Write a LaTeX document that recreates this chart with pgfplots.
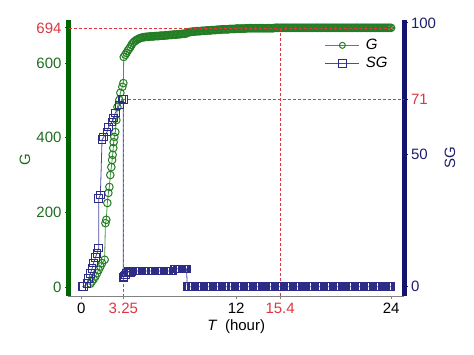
\documentclass[border=0pt]{standalone}
\usepackage{pgfplots}
\pgfplotsset{compat=1.18}
\usepackage{pgfplotstable}
\usepackage{fontspec}
\setmainfont{Liberation Sans}
\definecolor{Gaxis}{RGB}{0,100,0}
\definecolor{Gtxt}{RGB}{30,110,30}
\definecolor{Gline}{RGB}{70,150,70}
\definecolor{Gmark}{RGB}{35,125,35}
\definecolor{SGaxis}{RGB}{20,20,110}
\definecolor{SGtxt}{RGB}{30,30,110}
\definecolor{SGline}{RGB}{75,75,160}
\definecolor{SGmark}{RGB}{45,45,135}
\definecolor{refred}{RGB}{220,55,65}
\definecolor{xgray}{RGB}{130,130,130}

\pgfplotstableread[row sep=\\]{
x y\\
0.70 9\\ 0.82 15\\ 0.95 21\\ 1.08 28\\ 1.21 37\\ 1.34 46\\ 1.47 55\\ 1.60 64\\ 1.80 73\\
1.86 171\\ 1.93 180\\ 2.01 225\\ 2.09 252\\ 2.17 268\\ 2.24 300\\ 2.32 321\\ 2.38 340\\
2.42 354\\ 2.47 372\\ 2.50 388\\ 2.55 402\\ 2.63 415\\ 2.71 447\\ 2.79 482\\ 2.94 501\\
3.02 520\\ 3.17 536\\ 3.25 546\\ 3.28 616\\
3.4 622\\ 3.5 627\\ 3.6 633\\ 3.7 638\\ 3.8 643\\ 3.9 649\\ 4.0 654\\ 4.1 657\\ 4.2 660\\
4.3 662\\ 4.4 664\\ 4.5 666\\ 4.6 667\\ 4.7 668\\ 4.8 669\\ 4.9 669\\ 5.0 670\\ 5.1 670\\
5.2 670\\ 5.3 671\\ 5.4 671\\ 5.5 671\\ 5.6 671\\ 5.7 672\\ 5.8 672\\ 5.9 672\\ 6.0 672\\
6.1 673\\ 6.2 673\\ 6.3 673\\ 6.4 673\\ 6.5 674\\ 6.6 674\\ 6.7 674\\ 6.8 675\\ 6.9 675\\
7.0 675\\ 7.1 676\\ 7.2 676\\ 7.3 676\\ 7.4 676\\ 7.5 677\\ 7.6 677\\ 7.7 677\\ 7.8 678\\
7.9 678\\ 8.0 678\\ 8.1 679\\ 8.2 680\\ 8.3 682\\ 8.4 683\\ 8.5 683\\ 8.6 684\\ 8.7 684\\
8.8 684\\ 8.9 685\\ 9.0 685\\ 9.1 685\\ 9.2 685\\ 9.3 686\\ 9.4 686\\ 9.5 686\\ 9.6 686\\
9.7 687\\ 9.8 687\\ 9.9 687\\ 10.0 687\\ 10.1 688\\ 10.2 688\\ 10.3 688\\ 10.4 688\\
10.5 689\\ 10.6 689\\ 10.7 689\\ 10.8 689\\ 10.9 690\\ 11.0 690\\ 11.1 690\\ 11.2 690\\
11.3 690\\ 11.4 690\\ 11.5 691\\ 11.6 691\\ 11.7 691\\ 11.8 691\\ 11.9 691\\ 12.0 692\\
12.1 692\\ 12.2 692\\ 12.3 692\\ 12.4 692\\ 12.5 692\\ 12.6 692\\ 12.7 692\\ 12.8 693\\
12.9 693\\ 13.0 693\\ 13.1 693\\ 13.2 693\\ 13.3 693\\ 13.4 693\\ 13.5 693\\ 13.6 693\\
13.7 693\\ 13.8 693\\ 13.9 693\\ 14.0 693\\ 14.1 693\\ 14.2 693\\ 14.3 693\\ 14.4 693\\
14.5 693\\ 14.6 693\\ 14.7 693\\ 14.8 693\\ 14.9 693\\ 15.0 694\\ 15.1 694\\ 15.2 694\\
15.3 694\\ 15.4 694\\ 15.5 694\\ 15.6 694\\ 15.7 694\\ 15.8 694\\ 15.9 694\\ 16.0 694\\
16.1 694\\ 16.2 694\\ 16.3 694\\ 16.4 694\\ 16.5 694\\ 16.6 694\\ 16.7 694\\ 16.8 694\\
16.9 694\\ 17.0 694\\ 17.1 694\\ 17.2 694\\ 17.3 694\\ 17.4 694\\ 17.5 694\\ 17.6 694\\
17.7 694\\ 17.8 694\\ 17.9 694\\ 18.0 694\\ 18.1 694\\ 18.2 694\\ 18.3 694\\ 18.4 694\\
18.5 694\\ 18.6 694\\ 18.7 694\\ 18.8 694\\ 18.9 694\\ 19.0 694\\ 19.1 694\\ 19.2 694\\
19.3 694\\ 19.4 694\\ 19.5 694\\ 19.6 694\\ 19.7 694\\ 19.8 694\\ 19.9 694\\ 20.0 694\\
20.1 694\\ 20.2 694\\ 20.3 694\\ 20.4 694\\ 20.5 694\\ 20.6 694\\ 20.7 694\\ 20.8 694\\
20.9 694\\ 21.0 694\\ 21.1 694\\ 21.2 694\\ 21.3 694\\ 21.4 694\\ 21.5 694\\ 21.6 694\\
21.7 694\\ 21.8 694\\ 21.9 694\\ 22.0 694\\ 22.1 694\\ 22.2 694\\ 22.3 694\\ 22.4 694\\
22.5 694\\ 22.6 694\\ 22.7 694\\ 22.8 694\\ 22.9 694\\ 23.0 694\\ 23.1 694\\ 23.2 694\\
23.3 694\\ 23.4 694\\ 23.5 694\\ 23.6 694\\ 23.7 694\\ 23.8 694\\ 23.9 694\\ 24.0 694\\
}\Gdata

\pgfplotstableread[row sep=\\]{
x y\\
0.05 0\\ 0.18 0\\ 0.44 1.3\\ 0.57 3.2\\ 0.70 5.0\\ 0.83 7.0\\ 0.95 9.0\\ 1.08 11.0\\
1.21 12.7\\ 1.34 14.7\\ 1.34 33.5\\ 1.47 34.8\\ 1.60 55.7\\ 1.73 56.8\\ 1.99 58.7\\
2.11 60.6\\ 2.37 62.5\\ 2.50 64.0\\ 2.63 65.9\\ 2.96 68.9\\ 3.15 71.2\\ 3.25 71.0\\
3.25 3.5\\ 3.3 4.0\\ 3.4 4.5\\ 3.5 5.2\\ 3.6 5.7\\ 3.7 5.5\\ 3.8 5.3\\ 3.9 5.8\\
4.0 6.0\\ 4.1 6.0\\ 4.2 6.0\\ 4.3 6.0\\ 4.4 6.0\\ 4.5 6.0\\ 4.6 6.0\\ 4.7 6.0\\
4.8 6.0\\ 4.9 6.0\\ 5.0 6.0\\ 5.1 6.0\\ 5.2 6.0\\ 5.3 6.0\\ 5.4 6.0\\ 5.5 6.0\\
5.6 6.0\\ 5.7 6.0\\ 5.8 6.0\\ 5.9 6.0\\ 6.0 6.0\\ 6.1 6.0\\ 6.2 6.0\\ 6.3 6.0\\
6.4 6.0\\ 6.5 6.0\\ 6.6 6.0\\ 6.7 6.0\\ 6.8 6.0\\ 6.9 6.0\\ 7.0 6.0\\ 7.1 6.0\\
7.2 6.8\\ 7.3 6.8\\ 7.4 6.8\\ 7.5 6.8\\ 7.6 6.8\\ 7.7 6.8\\ 7.8 6.8\\ 7.9 6.8\\
8.0 6.8\\ 8.1 6.8\\ 8.15 6.8\\
8.2 0\\ 8.3 0\\ 8.4 0\\ 8.5 0\\ 8.6 0\\ 8.7 0\\ 8.8 0\\ 8.9 0\\ 9.0 0\\ 9.1 0\\
9.2 0\\ 9.3 0\\ 9.4 0\\ 9.5 0\\ 9.6 0\\ 9.7 0\\ 9.8 0\\ 9.9 0\\ 10.0 0\\ 10.1 0\\
10.2 0\\ 10.3 0\\ 10.4 0\\ 10.5 0\\ 10.6 0\\ 10.7 0\\ 10.8 0\\ 10.9 0\\ 11.0 0\\
11.1 0\\ 11.2 0\\ 11.3 0\\ 11.4 0\\ 11.5 0\\ 11.6 0\\ 11.7 0\\ 11.8 0\\ 11.9 0\\
12.0 0\\ 12.1 0\\ 12.2 0\\ 12.3 0\\ 12.4 0\\ 12.5 0\\ 12.6 0\\ 12.7 0\\ 12.8 0\\
12.9 0\\ 13.0 0\\ 13.1 0\\ 13.2 0\\ 13.3 0\\ 13.4 0\\ 13.5 0\\ 13.6 0\\ 13.7 0\\
13.8 0\\ 13.9 0\\ 14.0 0\\ 14.1 0\\ 14.2 0\\ 14.3 0\\ 14.4 0\\ 14.5 0\\ 14.6 0\\
14.7 0\\ 14.8 0\\ 14.9 0\\ 15.0 0\\ 15.1 0\\ 15.2 0\\ 15.3 0\\ 15.4 0\\ 15.5 0\\
15.6 0\\ 15.7 0\\ 15.8 0\\ 15.9 0\\ 16.0 0\\ 16.1 0\\ 16.2 0\\ 16.3 0\\ 16.4 0\\
16.5 0\\ 16.6 0\\ 16.7 0\\ 16.8 0\\ 16.9 0\\ 17.0 0\\ 17.1 0\\ 17.2 0\\ 17.3 0\\
17.4 0\\ 17.5 0\\ 17.6 0\\ 17.7 0\\ 17.8 0\\ 17.9 0\\ 18.0 0\\ 18.1 0\\ 18.2 0\\
18.3 0\\ 18.4 0\\ 18.5 0\\ 18.6 0\\ 18.7 0\\ 18.8 0\\ 18.9 0\\ 19.0 0\\ 19.1 0\\
19.2 0\\ 19.3 0\\ 19.4 0\\ 19.5 0\\ 19.6 0\\ 19.7 0\\ 19.8 0\\ 19.9 0\\ 20.0 0\\
20.1 0\\ 20.2 0\\ 20.3 0\\ 20.4 0\\ 20.5 0\\ 20.6 0\\ 20.7 0\\ 20.8 0\\ 20.9 0\\
21.0 0\\ 21.1 0\\ 21.2 0\\ 21.3 0\\ 21.4 0\\ 21.5 0\\ 21.6 0\\ 21.7 0\\ 21.8 0\\
21.9 0\\ 22.0 0\\ 22.1 0\\ 22.2 0\\ 22.3 0\\ 22.4 0\\ 22.5 0\\ 22.6 0\\ 22.7 0\\
22.8 0\\ 22.9 0\\ 23.0 0\\ 23.1 0\\ 23.2 0\\ 23.3 0\\ 23.4 0\\ 23.5 0\\ 23.6 0\\
23.7 0\\ 23.8 0\\ 23.9 0\\ 24.0 0\\
}\SGdata

\pgfplotsset{
  Gstyle/.style={color=Gline, line width=0.8pt, mark=o, mark size=3.8pt,
    mark options={draw=Gmark, fill=white, line width=1pt, solid}},
  SGstyle/.style={color=SGline, line width=0.8pt, mark=square, mark size=3.8pt,
    mark options={draw=SGmark, fill=white, line width=1pt, solid}},
  common/.style={
    scale only axis, width=335.5pt, height=276pt,
    at={(68.5pt,59pt)}, anchor=south west,
    xmin=-1, xmax=25, clip=false,
    font=\fontsize{15}{18}\selectfont,
    tick align=outside, major tick length=3.5pt,
  },
}

\begin{document}
\begin{tikzpicture}
\path[use as bounding box] (0,0) rectangle (474pt,355pt);

\begin{axis}[common,
  ymin=-24, ymax=715,
  axis x line*=bottom, axis y line*=left,
  x axis line style={xgray, line width=0.8pt},
  y axis line style={Gaxis, line width=5pt},
  xtick={0,12,24}, xticklabels={0,12,24},
  extra x ticks={3.25,15.4}, extra x tick labels={3.25,15.4},
  extra x tick style={xticklabel style={text=refred}},
  x tick style={xgray, line width=0.8pt},
  ytick={0,200,400,600}, yticklabels={0,200,400,600},
  extra y ticks={694}, extra y tick labels={694},
  extra y tick style={yticklabel style={text=refred}},
  yticklabel style={text=Gtxt},
  y tick style={Gaxis, line width=0.8pt},
  xlabel={\textit{T}\enspace(hour)},
  xlabel style={at={(axis description cs:0.5,-0.111)}, anchor=center},
]
\addplot[Gstyle] table[x=x,y=y] {\Gdata};
\node[rotate=90, text=Gtxt, font=\fontsize{15}{18}\selectfont] at (rel axis cs:-0.13,0.493) {G};
\end{axis}

\begin{axis}[common,
  ymin=-3.5, ymax=101.1,
  axis x line=none, axis y line*=right,
  y axis line style={SGaxis, line width=5pt},
  ytick={0,50,100}, yticklabels={0,50,100},
  extra y ticks={71}, extra y tick labels={71},
  extra y tick style={yticklabel style={text=refred}},
  yticklabel style={text=SGtxt},
  y tick style={SGaxis, line width=0.8pt},
  legend style={draw=none, fill=none, at={(rel axis cs:0.755,0.945)}, anchor=north west,
    font=\fontsize{15}{18}\selectfont, row sep=2pt,
    nodes={inner xsep=6pt}},
  legend cell align=left,
  legend image code/.code={\draw[mark repeat=2,mark phase=2,#1] plot coordinates {(0pt,0pt) (17pt,0pt) (34pt,0pt)};},
]
\addlegendimage{Gstyle, mark size=3pt}
\addlegendentry{\textit{G}}
\addplot[SGstyle] table[x=x,y=y] {\SGdata};
\addlegendentry{\textit{SG}}
\draw[refred, dash pattern=on 3pt off 2pt, line width=0.6pt] (axis cs:-1,98.13) -- (axis cs:24,98.13);
\draw[refred, dash pattern=on 3pt off 2pt, line width=0.6pt] (axis cs:15.4,98.13) -- (axis cs:15.4,-3.5);
\draw[refred, dash pattern=on 3pt off 2pt, line width=0.6pt] (axis cs:3.25,71) -- (axis cs:25,71);
\draw[refred, dash pattern=on 3pt off 2pt, line width=0.6pt] (axis cs:3.25,71) -- (axis cs:3.25,-3.5);
\node[rotate=90, text=SGtxt, font=\fontsize{15}{18}\selectfont] at (rel axis cs:1.137,0.5) {SG};
\end{axis}
\end{tikzpicture}
\end{document}
